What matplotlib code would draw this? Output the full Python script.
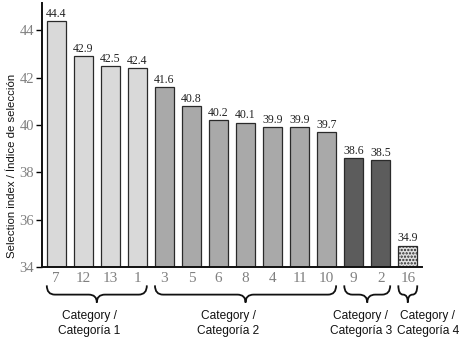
import matplotlib
matplotlib.use("Agg")
import matplotlib.pyplot as plt
import numpy as np
from matplotlib.path import Path
from matplotlib.patches import PathPatch
from matplotlib.transforms import blended_transform_factory

# bar labels (ids), values and group membership
ids = ['7', '12', '13', '1', '3', '5', '6', '8', '4', '11', '10', '9', '2', '16']
values = [44.4, 42.9, 42.5, 42.4, 41.6, 40.8, 40.2, 40.1, 39.9, 39.9, 39.7, 38.6, 38.5, 34.9]
group = [0, 0, 0, 0, 1, 1, 1, 1, 1, 1, 1, 2, 2, 3]
group_names = ['Category /\nCategoría 1', 'Category /\nCategoría 2',
               'Category /\nCategoría 3', 'Category /\nCategoría 4']
group_colors = ['#d9d9d9', '#a9a9a9', '#5c5c5c', '#e0e0e0']
group_label_x = [1.22, 6.35, 11.26, 13.74]

serif = ['Liberation Serif', 'DejaVu Serif']
sans = ['Liberation Sans', 'DejaVu Sans']

plt.rcParams['hatch.linewidth'] = 1.1

fig = plt.figure(figsize=(4.74, 3.48), dpi=100)
ax = fig.add_axes([0.089, 0.233, 0.801, 0.758])

x = np.arange(len(ids))
for i in range(len(ids)):
    g = group[i]
    ax.bar(x[i], values[i] - 34, bottom=34, width=0.7, color=group_colors[g],
           edgecolor='#2a2a2a', linewidth=0.9, hatch='.....' if g == 3 else None,
           zorder=2)
    ax.text(x[i], values[i] + 0.05, '%.1f' % values[i], ha='center', va='bottom',
            fontsize=8.5, family=serif, color='#222222')

ax.set_xlim(-0.52, 13.52)
ax.set_ylim(34, 45.15)
ax.set_yticks([34, 36, 38, 40, 42, 44])
ax.set_xticks(x)
ax.set_xticklabels(ids)
for lab in ax.get_yticklabels():
    lab.set_family(serif)
for lab in ax.get_xticklabels():
    lab.set_family(serif)
ax.tick_params(axis='y', length=4, width=1, pad=2, labelsize=10.5, labelcolor='#808080')
ax.tick_params(axis='x', length=0, pad=4, labelsize=11, labelcolor='#808080')

for s in ['top', 'right']:
    ax.spines[s].set_visible(False)
for s in ['left', 'bottom']:
    ax.spines[s].set_linewidth(1.4)
    ax.spines[s].set_color('#111111')

fig.text(12 / 474, 1 - 166 / 348, 'Selection index / Índice de selección',
         rotation=90, ha='center', va='center', fontsize=8.2, family=sans,
         color='#111111')


def brace(ax, x0, x1, y_top, y_mid, y_tip):
    """Curly brace from x0 to x1 (data x), opening upwards."""
    xm = (x0 + x1) / 2
    r = min(0.3, (x1 - x0) / 4)
    verts = [(x0, y_top), (x0, y_mid), (x0 + r, y_mid),
             (xm - r, y_mid),
             (xm, y_mid), (xm, y_tip),
             (xm, y_mid), (xm + r, y_mid),
             (x1 - r, y_mid),
             (x1, y_mid), (x1, y_top)]
    codes = [Path.MOVETO, Path.CURVE3, Path.CURVE3,
             Path.LINETO,
             Path.CURVE3, Path.CURVE3,
             Path.CURVE3, Path.CURVE3,
             Path.LINETO,
             Path.CURVE3, Path.CURVE3]
    tr = blended_transform_factory(ax.transData, ax.transAxes)
    ax.add_patch(PathPatch(Path(verts, codes), fill=False, lw=1.3,
                           edgecolor='#111111', transform=tr, clip_on=False))


for g in range(4):
    members = [i for i in range(len(ids)) if group[i] == g]
    brace(ax, members[0] - 0.35, members[-1] + 0.35, -0.07, -0.105, -0.135)
    ax.text(group_label_x[g], -0.165, group_names[g], ha='center', va='top',
            fontsize=8.6, family=sans, color='#111111', linespacing=1.25,
            transform=blended_transform_factory(ax.transData, ax.transAxes))

fig.savefig('out.png', dpi=100)
